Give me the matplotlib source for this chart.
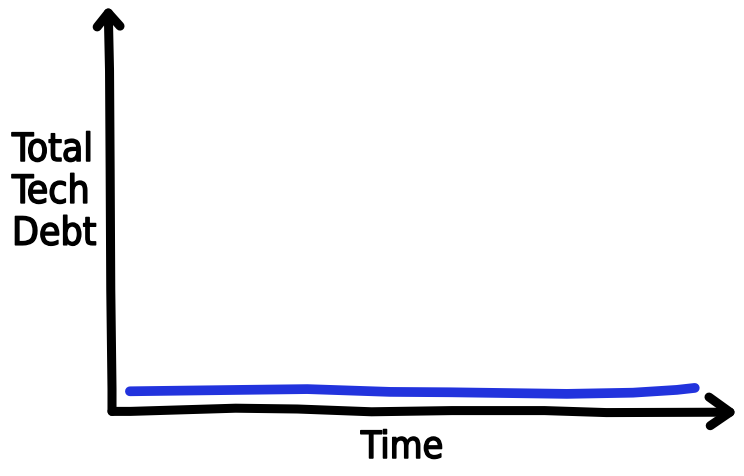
import matplotlib
matplotlib.use("Agg")
import matplotlib.pyplot as plt
import matplotlib.patheffects as pe

# Data (time in arbitrary units 0-100, total tech debt 0-100)
time = [2.9, 20.7, 31.6, 45.0, 54.7, 73.6, 84.3, 91.4, 94.3]
debt = [4.45, 4.8, 5.0, 4.3, 4.2, 3.8, 4.1, 4.8, 5.3]
x_label = "Time"
y_label = "Total\nTech\nDebt"

W, H = 744, 477
fig = plt.figure(figsize=(W / 100, H / 100), dpi=100)
fig.patch.set_facecolor("white")

x0, y0, x1, y1 = 112, 410, 730, 12
ax = fig.add_axes([x0 / W, (H - y0) / H, (x1 - x0) / W, (y0 - y1) / H])
ax.set_xlim(0, 100)
ax.set_ylim(0, 100)
ax.axis("off")

ax.plot(time, debt, color="#2233dd", lw=7, solid_capstyle="round",
        solid_joinstyle="round", clip_on=False, zorder=3)

# hand-drawn axes (axes-fraction coordinates)
tr = ax.transAxes
kw = dict(color="black", lw=6.5, transform=tr, clip_on=False,
          solid_capstyle="round", solid_joinstyle="round")
ax.plot([0.0, 0.03, 0.2, 0.3, 0.42, 0.55, 0.7, 0.8, 1.0],
        [-0.006, -0.006, 0.002, 0.0, -0.007, -0.004, -0.004, -0.009, -0.008], **kw)
ax.plot([-0.006, -0.004, -0.003, -0.002, 0.0, 0.0],
        [0.995, 0.85, 0.6, 0.3, 0.05, -0.006], **kw)
# arrowheads
ax.plot([0.966, 1.0, 0.968], [0.03, -0.008, -0.042], **kw)
ax.plot([-0.024, -0.006, 0.013], [0.96, 0.995, 0.962], **kw)

font = ["DejaVu Sans"]
thick = [pe.withStroke(linewidth=1.1, foreground="black")]
fig.text(12 / W, 1 - 132 / H, y_label, ha="left", va="top", fontsize=28,
         family=font, stretch="condensed", linespacing=1.13, color="black",
         path_effects=thick)
fig.text(402 / W, 1 - 449 / H, x_label, ha="center", va="center",
         fontsize=27, family=font, stretch="condensed", color="black",
         path_effects=thick)

fig.savefig("out.png", dpi=100, facecolor="white")
